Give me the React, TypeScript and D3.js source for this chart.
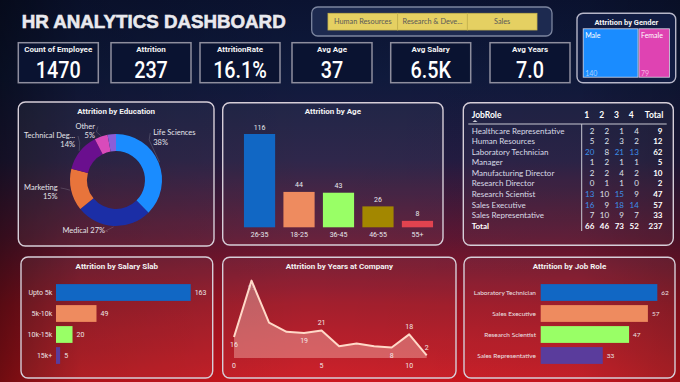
import React from 'react';
import * as d3 from 'd3';

// ---------- data ----------
const kpiLabels = ['Count of Employee', 'Attrition', 'AttritionRate', 'Avg Age', 'Avg Salary', 'Avg Years'];
const kpiValues = ['1470', '237', '16.1%', '37', '6.5K', '7.0'];
const slicerItems = ['Human Resources', 'Research & Deve...', 'Sales'];
const genderCats = ['Male', 'Female'];
const genderVals = [140, 79];
const eduCats = ['Life Sciences', 'Medical', 'Marketing', 'Technical Degree', 'Other', 'Human Resources'];
const eduVals = [89, 63, 35, 32, 11, 7];
const ageCats = ['26-35', '18-25', '36-45', '46-55', '55+'];
const ageVals = [116, 44, 43, 26, 8];
const salaryCats = ['Upto 5k', '5k-10k', '10k-15k', '15k+'];
const salaryVals = [163, 49, 20, 5];
const yearsX = [0, 1, 2, 3, 4, 5, 6, 7, 8, 9, 10, 11];
const yearsVals = [16, 59, 27, 20, 19, 21, 9, 11, 9, 8, 18, 2];
const yearsTicks = [0, 5, 10];
const jobCats = ['Laboratory Technician', 'Sales Executive', 'Research Scientist', 'Sales Representative'];
const jobVals = [62, 57, 47, 33];
const tableRoles = [
  'Healthcare Representative', 'Human Resources', 'Laboratory Technician', 'Manager',
  'Manufacturing Director', 'Research Director', 'Research Scientist', 'Sales Executive', 'Sales Representative',
];
const tableCols = ['1', '2', '3', '4'];
const tableVals = [
  [2, 2, 1, 4], [5, 2, 3, 2], [20, 8, 21, 13], [1, 2, 1, 1], [2, 2, 4, 2],
  [0, 1, 1, 0], [13, 10, 15, 9], [16, 9, 18, 14], [7, 10, 9, 7],
];

// ---------- styles ----------
const eduColors = ['#1a8cff', '#1b2ea6', '#e8743b', '#6a0f8e', '#d94bbb', '#8a5ed8'];
const ageColors = ['#1167c4', '#ee8b5f', '#99ff66', '#a38700', '#e0434f'];
const barColors4 = ['#1167c4', '#ee8b5f', '#99ff66', '#5a3c9c'];
const F = 'Roboto, "Open Sans", sans-serif';
const FT = 'Lato, "Open Sans", sans-serif';

const Panel = ({ x, y, w, h, title, ty }: any) => (
  <g>
    <rect x={x} y={y} width={w} height={h} rx={7} fill="rgba(255,255,255,0.05)" stroke="#d6ced8" strokeWidth={1.4} />
    {title && (
      <text x={x + w / 2} y={ty} textAnchor="middle" fontFamily={F} fontWeight={700} fontSize={8} fill="#f2f2f2">{title}</text>
    )}
  </g>
);

export default function App() {
  const W = 680, H = 382;

  // KPI cards layout
  const cardX = [18.3, 111, 200, 292, 390.7, 490];
  const cardW = 80;

  // slicer
  const slX = d3.scaleBand().domain(slicerItems).range([328, 537]).padding(0);

  // gender treemap
  const gTotal = d3.sum(genderVals);
  const gX = d3.scaleLinear().domain([0, gTotal]).range([582.7, 670]);
  const gCum = genderVals.map((_, i) => d3.sum(genderVals.slice(0, i)));

  // donut
  const cx = 116, cy = 180, R = 46, r0 = 29;
  const eduTotal = d3.sum(eduVals);
  const pie = d3.pie<number>().sort(null).value((d) => d)(eduVals);
  const arc = d3.arc<any>().innerRadius(r0).outerRadius(R);
  const pct = (v: number) => Math.round((v / eduTotal) * 100) + '%';
  const eduLabelPlace: any[] = [
    { a: 39.6, rr: 58.4, anchor: 'start', lines: [eduCats[0], pct(eduVals[0])] },
    { a: 191.6, rr: 54.6, anchor: 'end', lines: [eduCats[1] + ' ' + pct(eduVals[1])] },
    { a: 260.3, rr: 59.2, anchor: 'end', lines: [eduCats[2], pct(eduVals[2])] },
    { a: 315.7, rr: 58.7, anchor: 'end', lines: ['Technical Deg...', pct(eduVals[3])] },
    { a: 337.8, rr: 55.6, anchor: 'end', lines: [eduCats[4], pct(eduVals[4])] },
    null,
  ];
  const polar = (deg: number, rad: number) => {
    const t = (deg * Math.PI) / 180;
    return [cx + rad * Math.sin(t), cy - rad * Math.cos(t)];
  };

  // age bars
  const ageX = d3.scaleBand().domain(ageCats).range([240, 437]).paddingInner(0.21).paddingOuter(0.1);
  const ageBase = 227.3;
  const ageY = d3.scaleLinear().domain([0, 116]).range([ageBase, 134]);

  // salary bars
  const salY = d3.scaleBand().domain(salaryCats).range([282, 366]).paddingInner(0.2).paddingOuter(0.1);
  const salX = d3.scaleLinear().domain([0, 163]).range([56, 190.7]);

  // job bars
  const jobY = d3.scaleBand().domain(jobCats).range([282, 366]).paddingInner(0.2).paddingOuter(0.1);
  const jobX = d3.scaleLinear().domain([0, 62]).range([540.7, 657.3]);

  // years line
  const yrX = d3.scaleLinear().domain([0, 11]).range([234, 426.7]);
  const yrBase = 358;
  const yrY = d3.scaleLinear().domain([0, 61]).range([yrBase, 278]);
  const area = d3.area<number>().x((_, i) => yrX(yearsX[i])).y0(yrBase).y1((d) => yrY(d));
  const line = d3.line<number>().x((_, i) => yrX(yearsX[i])).y((d) => yrY(d));
  const yrLabelPos: Record<number, string> = { 0: 'below', 1: 'inside', 4: 'below', 5: 'above', 9: 'below', 10: 'above', 11: 'above' };

  // table
  const colRight = d3.scaleLinear().domain([0, 3]).range([594.3, 638.8]);
  const totalRight = 662.5;
  const rowY = d3.scaleLinear().domain([0, 9]).range([130.7, 225.7]);
  const rowTotals = tableVals.map((r) => d3.sum(r));
  const colTotals = tableCols.map((_, j) => d3.sum(tableVals, (r) => r[j]));
  const grand = d3.sum(rowTotals);

  return (
    <div style={{ position: 'absolute', left: 0, top: 0, width: W, height: H }}>
      <svg width={W} height={H} style={{ display: 'block' }}>
        <defs>
          <linearGradient id="bg" x1="0" y1="0" x2="0" y2="1">
            <stop offset="0" stopColor="#0b1331" />
            <stop offset="0.2" stopColor="#0f1a3d" />
            <stop offset="0.42" stopColor="#241c42" />
            <stop offset="0.62" stopColor="#5e1733" />
            <stop offset="0.8" stopColor="#a01322" />
            <stop offset="1" stopColor="#cc161e" />
          </linearGradient>
          <linearGradient id="side" x1="0" y1="0" x2="1" y2="0">
            <stop offset="0" stopColor="#000" stopOpacity="0.45" />
            <stop offset="0.12" stopColor="#000" stopOpacity="0.15" />
            <stop offset="0.45" stopColor="#000" stopOpacity="0" />
            <stop offset="0.85" stopColor="#000" stopOpacity="0.05" />
            <stop offset="1" stopColor="#000" stopOpacity="0.22" />
          </linearGradient>
        </defs>
        <rect x={0} y={0} width={W} height={H} fill="url(#bg)" />
        <rect x={0} y={0} width={W} height={H} fill="url(#side)" />

        {/* header */}
        <text x={21.7} y={28.3} fontFamily='"Liberation Sans", Arial, sans-serif' fontWeight={700} fontSize={19}
          fill="#e9e9ee" stroke="#e9e9ee" strokeWidth={0.6} textLength={264} lengthAdjust="spacingAndGlyphs">HR ANALYTICS DASHBOARD</text>

        {/* KPI cards */}
        {kpiLabels.map((lab, i) => (
          <g key={lab}>
            <rect x={cardX[i]} y={42.7} width={cardW} height={40} fill="#0a1331" stroke="#8e8e9e" strokeWidth={1.5} />
            <text x={cardX[i] + cardW / 2} y={52.3} textAnchor="middle" fontFamily={F} fontWeight={700} fontSize={8} fill="#f4f4f4">{lab}</text>
            <text transform={`translate(${cardX[i] + cardW / 2},78.3) scale(0.86,1)`} textAnchor="middle" fontFamily={F}
              fontWeight={500} fontSize={23} fill="#ffffff">{kpiValues[i]}</text>
          </g>
        ))}

        {/* slicer */}
        <rect x={311.7} y={7} width={240.3} height={29} rx={6} fill="#1d2a50" stroke="#7c859f" strokeWidth={1.3} />
        {slicerItems.map((s) => (
          <g key={s}>
            <rect x={slX(s)} y={13.3} width={slX.bandwidth()} height={16.7} fill="#e5d062" stroke="#c7b44e" strokeWidth={0.8} />
            <text x={(slX(s) as number) + slX.bandwidth() / 2} y={24.2} textAnchor="middle" fontFamily={FT} fontSize={7.3} fill="#595959">{s}</text>
          </g>
        ))}

        {/* gender */}
        <rect x={577} y={13.3} width={98.7} height={69.4} rx={6} fill="#111c42" stroke="#b6b6c8" strokeWidth={1.4} />
        <text x={626.3} y={24.6} textAnchor="middle" fontFamily={F} fontWeight={700} fontSize={7.5} fill="#f2f2f2">Attrition by Gender</text>
        {genderCats.map((g, i) => {
          const x0 = gX(gCum[i]), x1 = gX(gCum[i] + genderVals[i]);
          return (
            <g key={g}>
              <rect x={x0 + 0.5} y={28.8} width={x1 - x0 - 1} height={48.4} fill={i === 0 ? '#1a8cff' : '#df43b2'} stroke="#d8d8e6" strokeWidth={0.8} />
              <text x={x0 + 2.5} y={37.6} fontFamily={FT} fontSize={7} fill="#ffffff">{g}</text>
              <text x={x0 + 2.5} y={75.5} fontFamily={FT} fontSize={7} fill={i === 0 ? '#a8d2ff' : '#f6b3e2'}>{genderVals[i]}</text>
            </g>
          );
        })}

        {/* education donut */}
        <Panel x={18.3} y={102} w={195.7} h={144} title="Attrition by Education" ty={113.6} />
        {pie.map((p, i) => (
          <path key={eduCats[i]} d={arc(p) as string} transform={`translate(${cx},${cy})`} fill={eduColors[i]} />
        ))}
        {eduLabelPlace.map((lp, i) => {
          if (!lp) return null;
          const [tx, ty] = polar(lp.a, lp.rr);
          const mid = ((pie[i].startAngle + pie[i].endAngle) / 2) * 180 / Math.PI;
          const [ax, ay] = polar(mid, R + 1);
          const [bx, by] = polar(lp.a, R + 6);
          return (
            <g key={eduCats[i]}>
              <polyline points={`${ax},${ay} ${bx},${by} ${tx + (lp.anchor === 'start' ? -3 : 3)},${ty - 2}`} fill="none" stroke="rgba(200,200,210,0.35)" strokeWidth={0.6} />
              {lp.lines.map((l: string, k: number) => (
                <text key={k} x={tx} y={ty + k * 9.5} textAnchor={lp.anchor} fontFamily={FT} fontSize={7.5} fill="#e4e4ea">{l}</text>
              ))}
            </g>
          );
        })}

        {/* age bars */}
        <Panel x={222.7} y={102.7} w={220.3} h={142.3} title="Attrition by Age" ty={114} />
        {ageCats.map((c, i) => {
          const x = ageX(c) as number;
          return (
            <g key={c}>
              <rect x={x} y={ageY(ageVals[i])} width={ageX.bandwidth()} height={ageBase - ageY(ageVals[i])} fill={ageColors[i]} />
              <text x={x + ageX.bandwidth() / 2} y={ageY(ageVals[i]) - 4.5} textAnchor="middle" fontFamily={F} fontSize={7} fill="#e8e8ee">{ageVals[i]}</text>
              <text x={x + ageX.bandwidth() / 2} y={237.2} textAnchor="middle" fontFamily={F} fontSize={7} fill="#e8e8ee">{c}</text>
            </g>
          );
        })}

        {/* table */}
        <rect x={463.3} y={102.7} width={210} height={142.6} rx={7} fill="rgba(255,255,255,0.04)" stroke="#d6ced8" strokeWidth={1.4} />
        <text x={471.7} y={117.6} fontFamily={FT} fontWeight={700} fontSize={8.5} fill="#ffffff">JobRole</text>
        <path d="M472.5,122 l2.5,-2 l2.5,2 z" fill="#cfcfd8" />
        {tableCols.map((c, j) => (
          <text key={c} x={colRight(j) - 5} y={117.6} textAnchor="end" fontFamily={FT} fontWeight={700} fontSize={8.5} fill="#ffffff">{c}</text>
        ))}
        <text x={663.3} y={117.6} textAnchor="end" fontFamily={FT} fontWeight={700} fontSize={8.5} fill="#ffffff">Total</text>
        <line x1={468.3} x2={666.7} y1={124} y2={124} stroke="#c8c8d2" strokeWidth={1} />
        <line x1={581.7} x2={581.7} y1={124} y2={231} stroke="#c8c8d2" strokeWidth={1} />
        {tableRoles.map((role, i) => (
          <g key={role}>
            <text x={471.7} y={rowY(i)} dominantBaseline="central" fontFamily={FT} fontSize={8} fill="#d9dbe6">{role}</text>
            {tableVals[i].map((v, j) => (
              <text key={j} x={colRight(j)} y={rowY(i)} dominantBaseline="central" textAnchor="end" fontFamily={FT} fontSize={8}
                fill={v >= 13 ? '#3d8fe8' : '#dfe2ec'}>{v}</text>
            ))}
            <text x={totalRight} y={rowY(i)} dominantBaseline="central" textAnchor="end" fontFamily={FT} fontWeight={700} fontSize={8} fill="#ffffff">{rowTotals[i]}</text>
          </g>
        ))}
        <text x={471.7} y={rowY(9)} dominantBaseline="central" fontFamily={FT} fontWeight={700} fontSize={8} fill="#ffffff">Total</text>
        {colTotals.map((v, j) => (
          <text key={j} x={colRight(j)} y={rowY(9)} dominantBaseline="central" textAnchor="end" fontFamily={FT} fontWeight={700} fontSize={8} fill="#ffffff">{v}</text>
        ))}
        <text x={totalRight} y={rowY(9)} dominantBaseline="central" textAnchor="end" fontFamily={FT} fontWeight={700} fontSize={8} fill="#ffffff">{grand}</text>

        {/* salary bars */}
        <Panel x={21} y={257} w={191.7} h={121} title="Attrition by Salary Slab" ty={269} />
        {salaryCats.map((c, i) => {
          const y = salY(c) as number;
          return (
            <g key={c}>
              <rect x={salX(0)} y={y} width={salX(salaryVals[i]) - salX(0)} height={salY.bandwidth()} fill={barColors4[i]} />
              <text x={52.3} y={y + salY.bandwidth() / 2} dominantBaseline="central" textAnchor="end" fontFamily={F} fontSize={7} fill="#ece4e6">{c}</text>
              <text x={salX(salaryVals[i]) + 4} y={y + salY.bandwidth() / 2} dominantBaseline="central" fontFamily={F} fontSize={7} fill="#ece4e6">{salaryVals[i]}</text>
            </g>
          );
        })}

        {/* years at company */}
        <Panel x={222.7} y={257.3} w={233.3} h={120.7} title="Attrition by Years at Company" ty={268.6} />
        <path d={area(yearsVals) as string} fill="rgba(255,205,195,0.38)" />
        <path d={line(yearsVals) as string} fill="none" stroke="#ffd9c8" strokeWidth={2} strokeLinejoin="round" />
        {yearsVals.map((v, i) => {
          const pos = yrLabelPos[i];
          if (!pos) return null;
          const x = yrX(yearsX[i]);
          const y = pos === 'above' ? yrY(v) - 5 : pos === 'below' ? yrY(v) + 10 : yrY(v) + 9;
          return (
            <text key={i} x={x} y={y} textAnchor="middle" fontFamily={F} fontSize={7} fill="#f3e6e6" opacity={pos === 'inside' ? 0.35 : 1}>{v}</text>
          );
        })}
        {yearsTicks.map((t) => (
          <text key={t} x={yrX(t)} y={367.5} textAnchor="middle" fontFamily={F} fontSize={7} fill="#f3e6e6">{t}</text>
        ))}

        {/* job role bars */}
        <Panel x={464} y={257.3} w={211} h={120.7} title="Attrition by Job Role" ty={269} />
        {jobCats.map((c, i) => {
          const y = jobY(c) as number;
          return (
            <g key={c}>
              <rect x={jobX(0)} y={y} width={jobX(jobVals[i]) - jobX(0)} height={jobY.bandwidth()} fill={barColors4[i]} />
              <text x={536} y={y + jobY.bandwidth() / 2} dominantBaseline="central" textAnchor="end" fontFamily={FT} fontSize={6.5} fill="#ece4e6">{c}</text>
              <text x={jobX(jobVals[i]) + 4} y={y + jobY.bandwidth() / 2} dominantBaseline="central" fontFamily={FT} fontSize={6.5} fill="#ece4e6">{jobVals[i]}</text>
            </g>
          );
        })}
      </svg>
    </div>
  );
}
